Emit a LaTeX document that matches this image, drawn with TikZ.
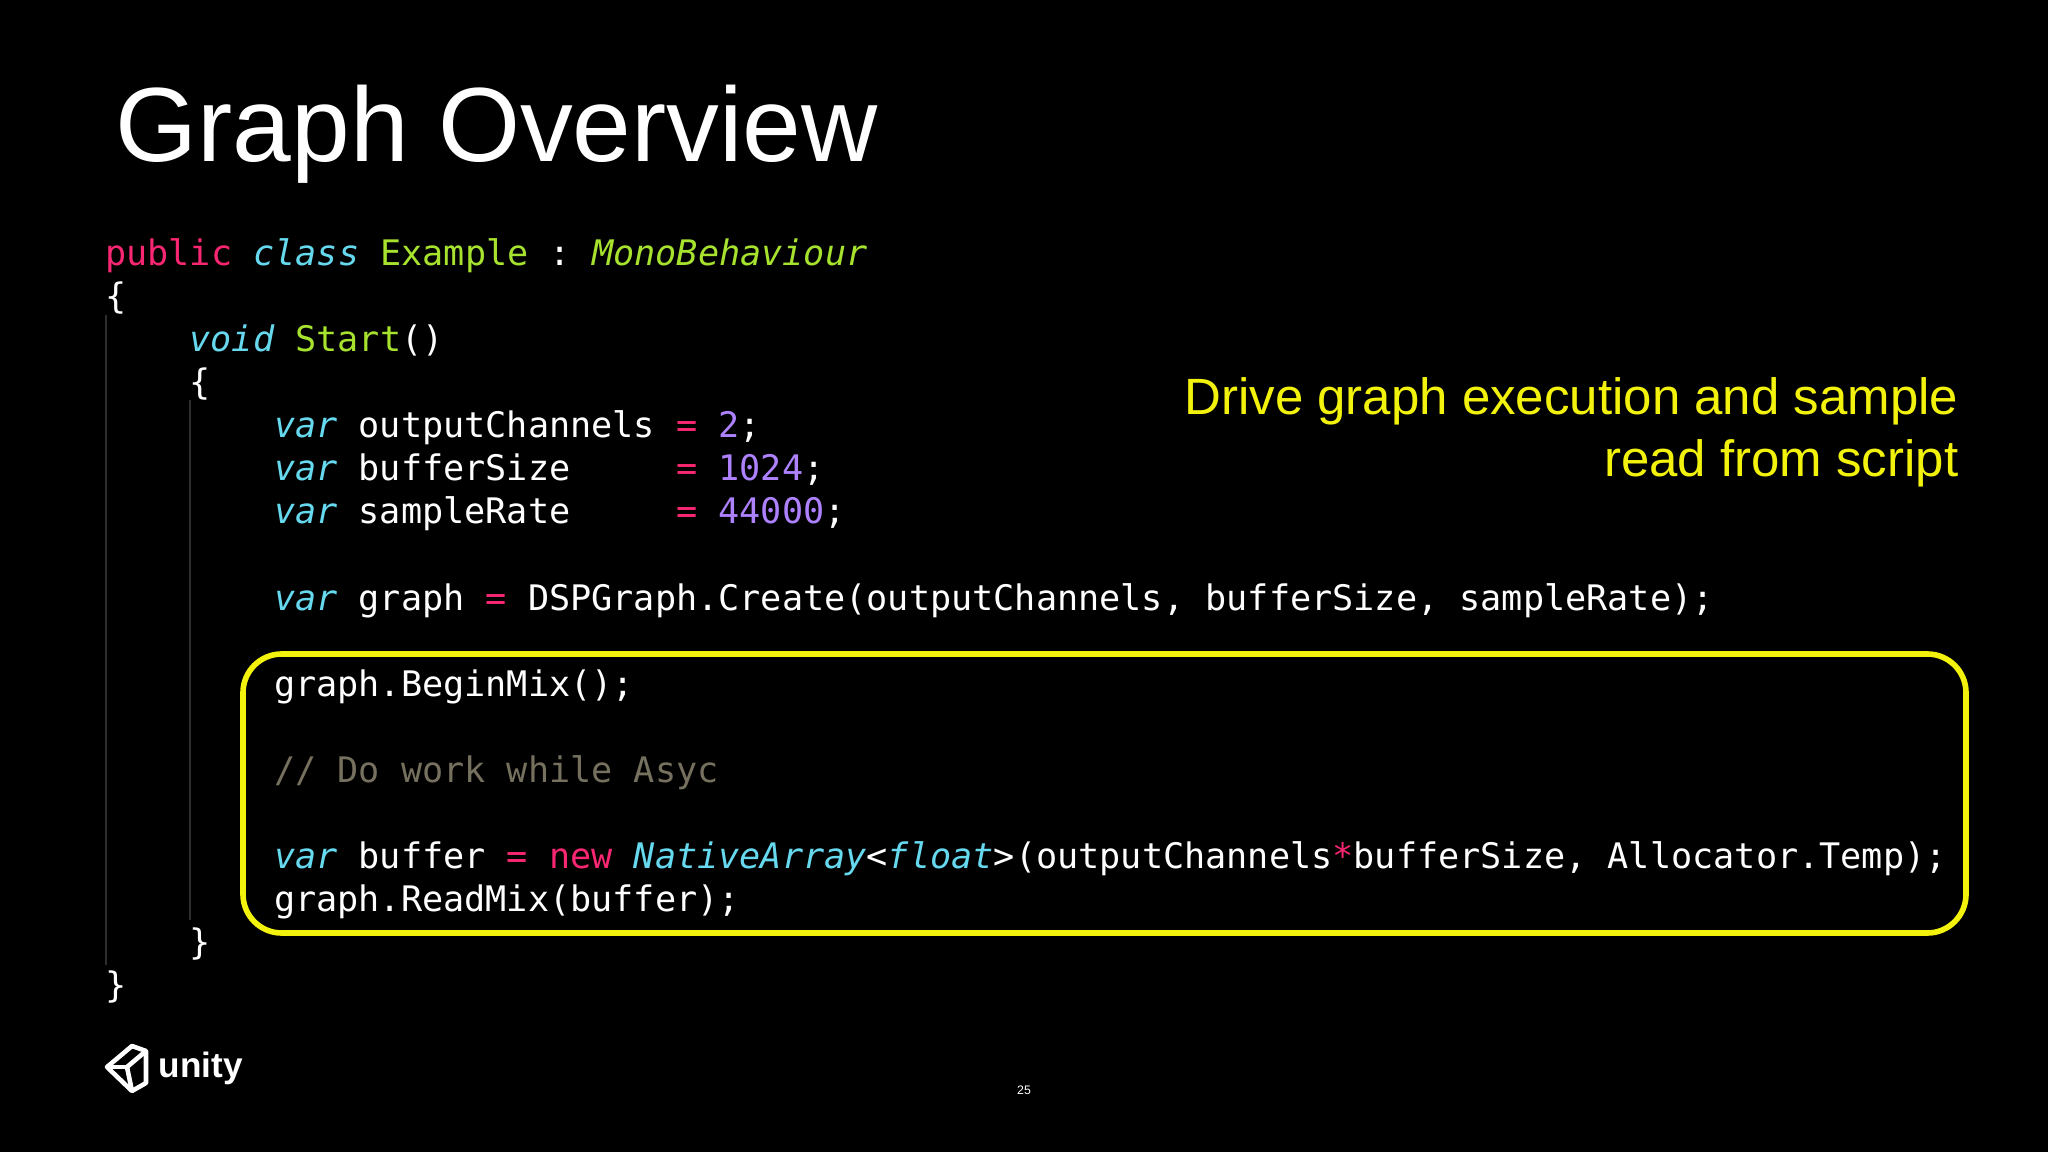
\documentclass[tikz,border=0pt]{standalone}
\usepackage{fontspec}
\setmainfont{Liberation Sans}
\setmonofont{DejaVu Sans Mono}
\definecolor{kw}{HTML}{F92672}
\definecolor{ty}{HTML}{66D9EF}
\definecolor{gr}{HTML}{A6E22E}
\definecolor{nu}{HTML}{AE81FF}
\definecolor{cm}{HTML}{75715E}
\definecolor{hl}{HTML}{F2F20C}
\newcommand{\K}[1]{\textcolor{kw}{#1}}
\newcommand{\T}[1]{\textcolor{ty}{\itshape #1}}
\newcommand{\G}[1]{\textcolor{gr}{#1}}
\newcommand{\N}[1]{\textcolor{nu}{#1}}
\begin{document}
\begin{tikzpicture}[x=0.01cm,y=-0.01cm,
  codeline/.style={anchor=mid west,inner sep=0pt,text=white,font=\fontsize{10}{12}\selectfont\ttfamily},
  guide/.style={draw=white!18!black,line width=0.6pt}]
\fill[black] (0,0) rectangle (2048,1152);
\useasboundingbox (0,0) rectangle (2048,1152);
\node[anchor=base west,inner sep=0pt,text=white,font=\fontsize{30}{36}\selectfont] (title) at (115,162) {Graph Overview};
\def\cx#1{104.5+21.1*#1}
\def\ly#1{256+43.1*(#1-1)}
\draw[guide] (106,315) -- (106,965);
\draw[guide] (190,400) -- (190,920);
\node[codeline] (l1) at ({\cx{0}},{\ly{1}}) {\K{public} \T{class} \G{Example} : \G{\itshape MonoBehaviour}};
\node[codeline] (l2) at ({\cx{0}},{\ly{2}}) {\{};
\node[codeline] (l3) at ({\cx{4}},{\ly{3}}) {\T{void} \G{Start}()};
\node[codeline] (l4) at ({\cx{4}},{\ly{4}}) {\{};
\node[codeline] (l5) at ({\cx{8}},{\ly{5}}) {\T{var} outputChannels \K{=} \N{2};};
\node[codeline] (l6) at ({\cx{8}},{\ly{6}}) {\T{var} bufferSize\ \ \ \ \ \K{=} \N{1024};};
\node[codeline] (l7) at ({\cx{8}},{\ly{7}}) {\T{var} sampleRate\ \ \ \ \ \K{=} \N{44000};};
\node[codeline] (l9) at ({\cx{8}},{\ly{9}}) {\T{var} graph \K{=} DSPGraph.Create(outputChannels, bufferSize, sampleRate);};
\node[codeline] (l11) at ({\cx{8}},{\ly{11}}) {graph.BeginMix();};
\node[codeline] (l13) at ({\cx{8}},{\ly{13}}) {\textcolor{cm}{// Do work while Asyc}};
\node[codeline] (l15) at ({\cx{8}},{\ly{15}}) {\T{var} buffer \K{=} \K{new} \T{NativeArray}<\T{float}>(outputChannels\K{*}bufferSize, Allocator.Temp);};
\node[codeline] (l16) at ({\cx{8}},{\ly{16}}) {graph.ReadMix(buffer);};
\node[codeline] (l17) at ({\cx{4}},{\ly{17}}) {\}};
\node[codeline] (l18) at ({\cx{0}},{\ly{18}}) {\}};
\draw[hl,line width=1.6pt,rounded corners=11pt] (243,654) rectangle (1966,933);
\node[anchor=north east,align=right,inner sep=0pt,text=hl,font=\fontsize{14.5}{17.6}\selectfont] (note) at (1959,377) {Drive graph execution and sample\\read from script};
% unity logo
\begin{scope}[line width=1.3pt,white,line join=round]
\draw (107,1067) -- (132,1046) -- (146,1051) -- (146,1083) -- (132,1091) -- cycle;
\draw (127,1067) -- (107,1067);
\draw (127,1067) -- (146,1051);
\draw (127,1067) -- (132,1091);
\end{scope}
\node[anchor=base west,inner sep=0pt,text=white,font=\fontsize{10}{12}\selectfont\bfseries] (unity) at (158,1077) {unity};
\node[text=white,inner sep=0pt,font=\fontsize{3.5}{4}\selectfont] (pg) at (1024,1090) {25};
\end{tikzpicture}
\end{document}
